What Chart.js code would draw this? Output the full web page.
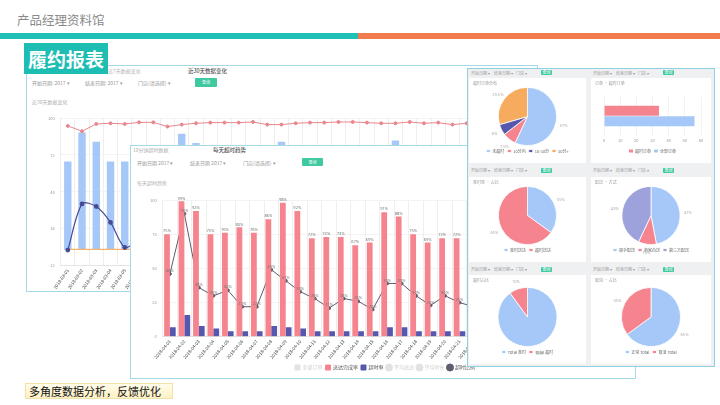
<!DOCTYPE html>
<html>
<head>
<meta charset="utf-8">
<script src="https://cdn.jsdelivr.net/npm/chart.js@4.4.0/dist/chart.umd.min.js"></script>
<style>
  body { margin: 0; width: 720px; height: 405px; overflow: hidden; background: #fff; position: relative;
         font-family: "Noto Sans CJK SC", "Noto Sans", sans-serif; }
  .abs { position: absolute; }
  .brand { left: 17px; top: 10px; font-size: 12.5px; color: #8a8a8a; }
  .teal { left: 0; top: 33px; width: 358px; height: 6px; background: #1fc0b5; }
  .orange { left: 358px; top: 33px; width: 362px; height: 6px; background: #f27b4e; }
  .title { left: 24px; top: 43px; width: 84px; height: 31px; background: #1ebdb3; color: #fff; font-weight: bold;
           font-size: 19px; line-height: 31px; text-align: center; z-index: 5; }
  .panel { background: #fff; border: 1px solid #a6d9e8; box-sizing: border-box; }
  .tiny { font-size: 5px; color: #999; white-space: nowrap; }
  .dark { color: #333; }
  .btn { background: #3fc9a0; color: #fff; font-size: 4px; text-align: center; border-radius: 1px; }
  .card { background: #fff; }
  .note { left: 25px; top: 383px; width: 148px; height: 16px; box-sizing: border-box; border: 1px solid #f1e2a8;
          background: linear-gradient(#fffcea, #fdf1c4); font-size: 11px; line-height: 14px; padding-left: 3px; color: #111; }
</style>
</head>
<body>
<div class="abs brand">产品经理资料馆</div>
<div class="abs teal"></div>
<div class="abs orange"></div>
<div class="abs title">履约报表</div>

<!-- back panel: 近30天 -->
<div class="abs panel" style="left:26px;top:65px;width:512px;height:227px;"></div>
<div class="abs tiny" style="left:108px;top:67px;color:#b5b5b5;">近7天数据变化</div>
<div class="abs tiny dark" style="left:188px;top:67px;font-size:5.5px;">近30天数据变化</div>
<div class="abs tiny" style="left:32px;top:79px;">开始日期: 2017 ▾</div>
<div class="abs tiny" style="left:85px;top:79px;">结束日期: 2017 ▾</div>
<div class="abs tiny" style="left:138px;top:79px;">门店(请选择) ▾</div>
<div class="abs btn" style="left:195px;top:78px;width:22px;height:9px;line-height:9px;">查询</div>
<div class="abs tiny" style="left:32px;top:98px;color:#b0b0b0;">近30天数据变化</div>
<div class="abs" style="left:28px;top:106px;width:508px;height:186px;"><canvas id="backChart"></canvas></div>

<!-- front panel: 每天超时趋势 -->
<div class="abs panel" style="left:130px;top:145px;width:506px;height:234px;"></div>
<div class="abs tiny" style="left:133px;top:146px;color:#b0b0b0;">10分钟超时数据</div>
<div class="abs tiny dark" style="left:213px;top:146px;font-size:5.5px;">每天超时趋势</div>
<div class="abs tiny" style="left:137px;top:159px;">开始日期 2017 ▾</div>
<div class="abs tiny" style="left:190px;top:159px;">结束日期 2017 ▾</div>
<div class="abs tiny" style="left:243px;top:159px;">门店(请选择) ▾</div>
<div class="abs btn" style="left:302px;top:158px;width:21px;height:8px;line-height:8px;">查询</div>
<div class="abs tiny" style="left:137px;top:179px;color:#b0b0b0;">每天超时趋势</div>
<div class="abs" style="left:132px;top:188px;width:502px;height:192px;"><canvas id="frontChart"></canvas></div>

<!-- right panel with small charts -->
<div class="abs" style="left:467px;top:68px;width:248px;height:299px;background:#eff0f1;border:1px solid #8fd0e2;box-sizing:border-box;"></div>

<div class="abs tiny" style="left:471px;top:70px;font-size:4px;">开始日期 ▾</div>
<div class="abs tiny" style="left:494px;top:70px;font-size:4px;">结束日期 ▾</div>
<div class="abs tiny" style="left:516px;top:70px;font-size:4px;">门店 ▾</div>
<div class="abs btn" style="left:541px;top:70px;width:11px;height:5px;line-height:5px;">查询</div>
<div class="abs tiny" style="left:593px;top:70px;font-size:4px;">开始日期 ▾</div>
<div class="abs tiny" style="left:616px;top:70px;font-size:4px;">结束日期 ▾</div>
<div class="abs tiny" style="left:638px;top:70px;font-size:4px;">门店 ▾</div>
<div class="abs btn" style="left:663px;top:70px;width:11px;height:5px;line-height:5px;">查询</div>

<div class="abs tiny" style="left:471px;top:167px;font-size:4px;">开始日期 ▾</div>
<div class="abs tiny" style="left:494px;top:167px;font-size:4px;">结束日期 ▾</div>
<div class="abs tiny" style="left:516px;top:167px;font-size:4px;">门店 ▾</div>
<div class="abs btn" style="left:541px;top:168px;width:11px;height:5px;line-height:5px;">查询</div>
<div class="abs tiny" style="left:593px;top:167px;font-size:4px;">开始日期 ▾</div>
<div class="abs tiny" style="left:616px;top:167px;font-size:4px;">结束日期 ▾</div>
<div class="abs tiny" style="left:638px;top:167px;font-size:4px;">门店 ▾</div>
<div class="abs btn" style="left:663px;top:168px;width:11px;height:5px;line-height:5px;">查询</div>

<div class="abs tiny" style="left:471px;top:266px;font-size:4px;">开始日期 ▾</div>
<div class="abs tiny" style="left:494px;top:266px;font-size:4px;">结束日期 ▾</div>
<div class="abs tiny" style="left:516px;top:266px;font-size:4px;">门店 ▾</div>
<div class="abs btn" style="left:541px;top:267px;width:11px;height:5px;line-height:5px;">查询</div>
<div class="abs tiny" style="left:593px;top:266px;font-size:4px;">开始日期 ▾</div>
<div class="abs tiny" style="left:616px;top:266px;font-size:4px;">结束日期 ▾</div>
<div class="abs tiny" style="left:638px;top:266px;font-size:4px;">门店 ▾</div>
<div class="abs btn" style="left:663px;top:267px;width:11px;height:5px;line-height:5px;">查询</div>

<div class="abs card" style="left:469px;top:78px;width:117px;height:85px;"><canvas id="pie1"></canvas></div>
<div class="abs card" style="left:591px;top:78px;width:120px;height:85px;"><canvas id="hbar"></canvas></div>
<div class="abs card" style="left:469px;top:177px;width:117px;height:85px;"><canvas id="pie3"></canvas></div>
<div class="abs card" style="left:591px;top:177px;width:120px;height:85px;"><canvas id="pie4"></canvas></div>
<div class="abs card" style="left:469px;top:275px;width:117px;height:89px;"><canvas id="pie5"></canvas></div>
<div class="abs card" style="left:591px;top:275px;width:120px;height:89px;"><canvas id="pie6"></canvas></div>

<div class="abs tiny" style="left:473px;top:80px;font-size:4px;">超时订单分布</div>
<div class="abs tiny" style="left:595px;top:80px;font-size:4px;">订单 · 超时订单</div>
<div class="abs tiny" style="left:473px;top:179px;font-size:4px;">准时率 · 占比</div>
<div class="abs tiny" style="left:595px;top:179px;font-size:4px;">配送 · 方式</div>
<div class="abs tiny" style="left:473px;top:277px;font-size:4px;">超时占比</div>
<div class="abs tiny" style="left:595px;top:277px;font-size:4px;">取消 · 占比</div>

<div class="abs note">多角度数据分析，反馈优化</div>

<script>
// 近30天数据
const backLabels = ['2018-03-01','2018-03-02','2018-03-03','2018-03-04','2018-03-05','2018-03-06','2018-03-07',
  '2018-03-08','2018-03-09','2018-03-10','2018-03-11','2018-03-12','2018-03-13','2018-03-14','2018-03-15',
  '2018-03-16','2018-03-17','2018-03-18','2018-03-19','2018-03-20','2018-03-21','2018-03-22','2018-03-23',
  '2018-03-24','2018-03-25','2018-03-26','2018-03-27','2018-03-28','2018-03-29','2018-03-30','2018-03-31',
  '2018-04-01','2018-04-02'];
const backOrders = [67, 89, 82, 67, 67, 71, 73, 75, 88, 81, 72, 70, 74, 76, 73, 82, 70, 72, 75, 71, 69, 74, 73,
  83, 72, 70, 76, 74, 71, 73, 75, 72, 70];
const backRate = [94, 90, 95.5, 96, 95.5, 96.7, 96.7, 93.5, 95, 96, 96.5, 96.5, 96.5, 97, 95, 95, 96, 96.5, 96.5,
  97, 97, 96.5, 96, 96, 97, 96, 96.5, 95, 96, 96.5, 96, 96.5, 96];
const backTimeout = [0, 35, 33, 21, 2, 8, 15, 20, 28, 22, 12, 10, 14, 18, 11, 24, 9, 12, 16, 10, 8, 14, 12, 26,
  11, 9, 16, 13, 10, 12, 15, 11, 9];
const backCancel = [0.5, 0.5, 0.5, 0.5, 0.5, 0.5, 0.5, 0.5, 0.5, 0.5, 0.5, 0.5, 0.5, 0.5, 0.5, 0.5, 0.5, 0.5, 0.5,
  0.5, 0.5, 0.5, 0.5, 0.5, 0.5, 0.5, 0.5, 0.5, 0.5, 0.5, 0.5, 0.5, 0.5];

// 每天超时趋势
const frontLabels = ['2018-04-01','2018-04-02','2018-04-03','2018-04-04','2018-04-05','2018-04-06','2018-04-07',
  '2018-04-08','2018-04-09','2018-04-10','2018-04-11','2018-04-12','2018-04-13','2018-04-14','2018-04-15',
  '2018-04-16','2018-04-17','2018-04-18','2018-04-19','2018-04-20','2018-04-21','2018-04-22','2018-04-23',
  '2018-04-24','2018-04-25','2018-04-26','2018-04-27','2018-04-28','2018-04-29','2018-04-30','2018-05-01',
  '2018-05-02'];
const frontDone = [75, 99, 92, 75, 76, 80, 76, 86, 98, 92, 72, 73, 73, 67, 69, 91, 88, 75, 69, 72, 72, 74, 78,
  70, 73, 85, 71, 76, 74, 69, 72, 75];
const frontTimeout = [7, 16, 8, 6, 4, 4, 4, 8, 7, 6, 4, 4, 4, 4, 4, 7, 7, 4, 4, 4, 4, 6, 5, 4, 5, 7, 4, 5, 4, 4,
  5, 4];
const frontShare = [46, 90, 36, 30, 34, 22, 22, 49, 41, 33, 28, 21, 28, 26, 20, 39, 39, 30, 23, 30, 25, 22, 27,
  21, 24, 35, 22, 26, 24, 20, 23, 25];
const frontLegend = ['全部订单', '送达完成率', '超时率', '平均送达', '平均时长', '超时比例'];

// 小图
const pie1Labels = ['未超时', '10分内', '10-30分', '30分+'];
const pie1Values = [57, 7.5, 6, 29.5];
const barLabels = ['订单'];
const barTimeout = [34];
const barAll = [56];
const pie3Labels = ['准时送达', '超时送达'];
const pie3Values = [35, 65];
const pie4Labels = ['骑手配送', '商家自送', '第三方配送'];
const pie4Values = [47, 10, 43];
const pie5Labels = ['Total 准时', 'Total 超时'];
const pie5Values = [90, 10];
const pie6Labels = ['正常 Total', '取消 Total'];
const pie6Values = [65, 35];

const BLUE = '#a6c8f8', PINK = '#f5848e', NAVY = '#5558ae', ORANGE = '#f7ab5e', LAV = '#9ea2dc';

Chart.defaults.font.family = '"Noto Sans CJK SC", "Noto Sans", sans-serif';
Chart.defaults.animation = false;
Chart.defaults.color = '#999';

// 数值标签
Chart.register({
  id: 'valueLabels',
  afterDatasetsDraw(chart, args, opts) {
    if (!opts.datasets) return;
    const ctx = chart.ctx;
    ctx.save();
    ctx.font = '4px "Noto Sans"';
    ctx.fillStyle = '#777';
    ctx.textAlign = 'center';
    opts.datasets.forEach(di => {
      chart.getDatasetMeta(di).data.forEach((el, i) => {
        ctx.fillText(chart.data.datasets[di].data[i] + '%', el.x, el.y - 3);
      });
    });
    ctx.restore();
  }
});

// 饼图外侧标签
Chart.register({
  id: 'sliceLabels',
  afterDatasetsDraw(chart, args, opts) {
    if (!opts.show) return;
    const ctx = chart.ctx;
    ctx.save();
    ctx.font = '4px "Noto Sans"';
    ctx.fillStyle = '#aaa';
    ctx.textAlign = 'center';
    chart.getDatasetMeta(0).data.forEach((el, i) => {
      const mid = (el.startAngle + el.endAngle) / 2;
      const r = el.outerRadius + 8;
      ctx.fillText(chart.data.datasets[0].data[i] + '%', el.x + Math.cos(mid) * r, el.y + Math.sin(mid) * r + 1);
    });
    ctx.restore();
  }
});

new Chart(document.getElementById('backChart'), {
  type: 'bar',
  data: {
    labels: backLabels,
    datasets: [
      { type: 'line', label: '送达完成率', data: backRate, borderColor: '#e9868e', backgroundColor: '#e9868e',
        borderWidth: 1, pointRadius: 1.5 },
      { type: 'line', label: '超时率', data: backTimeout, borderColor: '#474a92', backgroundColor: '#474a92',
        borderWidth: 1.2, pointRadius: 1.8, tension: 0.3 },
      { type: 'line', label: '取消率', data: backCancel, borderColor: '#f6b36e', borderWidth: 1.2, pointRadius: 0 },
      { label: '订单量', data: backOrders, backgroundColor: BLUE, categoryPercentage: 0.8, barPercentage: 0.65 }
    ]
  },
  options: {
    responsive: true, maintainAspectRatio: false,
    layout: { padding: { left: 14, right: 2, top: 12, bottom: 0 } },
    plugins: { legend: { display: false }, tooltip: { enabled: false } },
    scales: {
      x: { grid: { color: '#eeeeee', drawTicks: false }, border: { color: '#e4e4e4' },
           ticks: { font: { size: 4.5 }, color: '#444', maxRotation: 55, minRotation: 55, autoSkip: false, padding: 2 } },
      y: { min: -12, max: 100, grid: { color: '#f3f3f3', drawTicks: false }, border: { display: false },
           ticks: { stepSize: 28, font: { size: 4 }, color: '#999', padding: 6 } }
    }
  }
});

new Chart(document.getElementById('frontChart'), {
  type: 'bar',
  data: {
    labels: frontLabels,
    datasets: [
      { label: '送达完成率', data: frontDone, backgroundColor: PINK, categoryPercentage: 0.8, barPercentage: 1 },
      { label: '超时率', data: frontTimeout, backgroundColor: NAVY, categoryPercentage: 0.8, barPercentage: 1 },
      { type: 'line', label: '超时比例', data: frontShare, borderColor: '#5f5b70', backgroundColor: '#5f5b70',
        borderWidth: 1, pointRadius: 1.5 }
    ]
  },
  options: {
    responsive: true, maintainAspectRatio: false,
    layout: { padding: { left: 12, right: 8, top: 12, bottom: 0 } },
    plugins: {
      tooltip: { enabled: false },
      valueLabels: { datasets: [0, 2] },
      legend: {
        position: 'bottom', onClick: null,
        labels: {
          usePointStyle: true, boxWidth: 5, boxHeight: 5, font: { size: 5 }, padding: 3,
          generateLabels: () => frontLegend.map((name, i) => ({
            text: name,
            fillStyle: ['#e2e2e2', PINK, NAVY, '#e2e2e2', '#e2e2e2', '#5f5b70'][i],
            strokeStyle: ['#e2e2e2', PINK, NAVY, '#e2e2e2', '#e2e2e2', '#5f5b70'][i],
            fontColor: [0, 3, 4].includes(i) ? '#cfcfcf' : '#555',
            pointStyle: i < 3 ? 'rect' : 'circle',
            lineWidth: 1, hidden: false
          }))
        }
      }
    },
    scales: {
      x: { grid: { color: '#efefef', drawTicks: false }, border: { color: '#e4e4e4' },
           ticks: { font: { size: 4.5 }, color: '#444', maxRotation: 50, minRotation: 50, autoSkip: false, padding: 2 } },
      y: { min: 0, max: 100, grid: { color: '#f3f3f3', drawTicks: false }, border: { display: false },
           ticks: { stepSize: 25, font: { size: 4 }, color: '#999', padding: 6 } }
    }
  }
});

function makePie(id, labels, values, colors, top, bottom) {
  return new Chart(document.getElementById(id), {
    type: 'pie',
    data: { labels: labels, datasets: [{ data: values, backgroundColor: colors, borderColor: '#fff', borderWidth: 0.8 }] },
    options: {
      responsive: true, maintainAspectRatio: false,
      layout: { padding: { top: top, bottom: bottom, left: 4, right: 4 } },
      plugins: {
        tooltip: { enabled: false },
        sliceLabels: { show: true },
        legend: { position: 'bottom', onClick: null,
                  labels: { boxWidth: 4, boxHeight: 3, font: { size: 4 }, padding: 3, color: '#666' } }
      }
    }
  });
}

makePie('pie1', pie1Labels, pie1Values, [BLUE, PINK, NAVY, ORANGE], 9, 0);
makePie('pie3', pie3Labels, pie3Values, [BLUE, PINK], 9, 0);
makePie('pie4', pie4Labels, pie4Values, [BLUE, PINK, LAV], 9, 0);
makePie('pie5', pie5Labels, pie5Values, [BLUE, PINK], 12, 0);
makePie('pie6', pie6Labels, pie6Values, [BLUE, PINK], 12, 0);

new Chart(document.getElementById('hbar'), {
  type: 'bar',
  data: {
    labels: barLabels,
    datasets: [
      { label: '超时订单', data: barTimeout, backgroundColor: PINK, categoryPercentage: 0.55, barPercentage: 0.95 },
      { label: '全部订单', data: barAll, backgroundColor: BLUE, categoryPercentage: 0.55, barPercentage: 0.95 }
    ]
  },
  options: {
    indexAxis: 'y',
    responsive: true, maintainAspectRatio: false,
    layout: { padding: { top: 19, left: 13, right: 10, bottom: 0 } },
    plugins: {
      tooltip: { enabled: false },
      legend: { position: 'bottom', onClick: null,
                labels: { boxWidth: 4, boxHeight: 3, font: { size: 4 }, padding: 3, color: '#666' } }
    },
    scales: {
      x: { min: 0, max: 60, grid: { color: '#f2f2f2', drawTicks: false }, border: { display: false },
           ticks: { stepSize: 10, font: { size: 4 }, color: '#999', padding: 3 } },
      y: { display: false }
    }
  }
});
</script>
</body>
</html>
